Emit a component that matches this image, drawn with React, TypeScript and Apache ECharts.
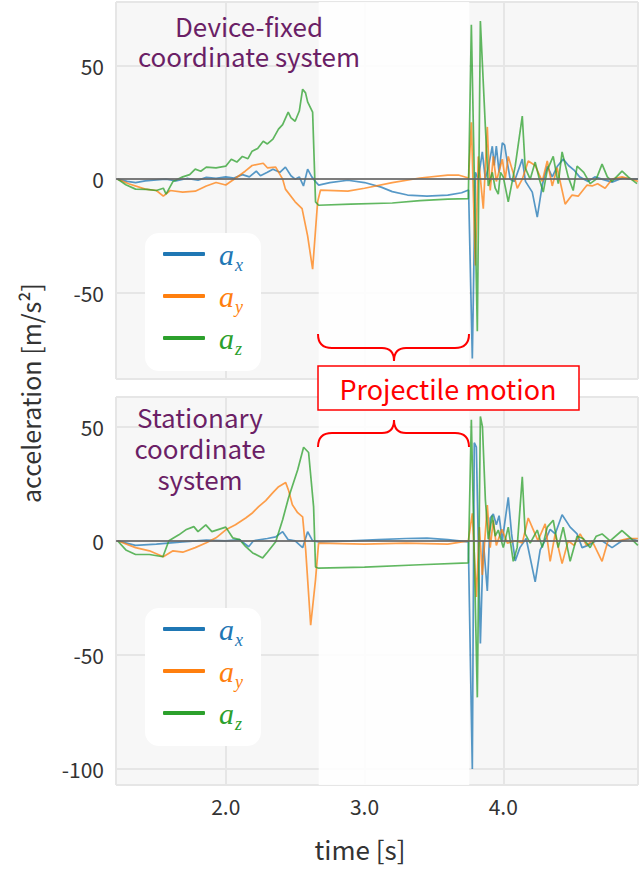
import * as echarts from 'echarts'
import { useEffect, useRef } from 'react'

// time axis range [s] and the projectile-motion band
const xRange = [1.209, 4.971]
const flightBand = [2.67, 3.755]

// device-fixed coordinate system [t, a]
const topAx = [
  [1.22, 0], [1.29, -1], [1.35, -1.5], [1.42, -0.8], [1.5, -0.3], [1.57, 0], [1.64, -0.8], [1.72, 0.3],
  [1.8, -0.5], [1.86, 0.8], [1.93, 0.3], [2.0, 1], [2.06, 0.5], [2.12, 2], [2.17, 1], [2.22, 3.5],
  [2.25, 1.5], [2.3, 3], [2.34, 4.4], [2.39, 3], [2.43, 5.3], [2.47, 1.5], [2.5, 0], [2.53, 1],
  [2.56, -3], [2.59, 4.4], [2.62, 1], [2.65, -1.3], [2.67, -2.6], [2.75, -1.5], [2.88, -0.5], [3.0, -1.5],
  [3.12, -3.5], [3.2, -5.5], [3.31, -7], [3.45, -7.5], [3.6, -7], [3.7, -6], [3.75, -4.8],
  [3.777, -79], [3.799, 3], [3.82, 0], [3.849, 12], [3.871, 0], [3.892, 5], [3.921, 14.5], [3.935, 6],
  [3.95, 14.5], [3.97, 3], [3.993, 16], [4.01, 15], [4.03, 7], [4.05, 0], [4.08, -1], [4.137, 8.8],
  [4.16, -1], [4.209, -5.7], [4.245, -16.7], [4.281, -2.6], [4.317, 5.7], [4.353, 1], [4.39, 5.7],
  [4.432, 8.8], [4.47, 6], [4.51, 4], [4.55, 1], [4.612, -1], [4.66, 1], [4.71, 0], [4.784, -1.3],
  [4.86, 0.5], [4.93, 0], [4.97, 0],
]
const topAy = [
  [1.22, 0], [1.3, -2], [1.42, -4.4], [1.5, -5], [1.55, -7.5], [1.6, -5], [1.69, -5.7], [1.78, -5.3],
  [1.86, -3], [1.93, -1.5], [2.0, -2.6], [2.07, 0.4], [2.14, 3.5], [2.19, 6], [2.27, 7], [2.3, 5],
  [2.36, 5.3], [2.41, 0], [2.43, -4.4], [2.5, -10], [2.55, -13], [2.59, -25], [2.626, -39.6],
  [2.662, -10], [2.683, -4.8], [2.88, -5.3], [3.0, -4], [3.2, -1.5], [3.4, 0.5], [3.6, 1.8], [3.676, 1.8],
  [3.75, 0.5], [3.77, 25], [3.799, -38], [3.82, 10], [3.856, -13], [3.885, 23], [3.892, 12], [3.906, -5],
  [3.928, 10], [3.95, -1], [3.993, 8.8], [4.014, 0], [4.036, 10], [4.08, 1], [4.101, -4], [4.137, 0],
  [4.18, 8], [4.23, 6], [4.281, -1], [4.317, 8], [4.353, -3], [4.388, 5], [4.446, -11], [4.496, -7],
  [4.54, -7.5], [4.604, -2.6], [4.64, -3], [4.68, -2], [4.734, -4], [4.784, 0], [4.856, 1], [4.95, -0.5],
  [4.97, -1],
]
const topAz = [
  [1.22, 0], [1.28, -2.5], [1.35, -4.4], [1.43, -4.5], [1.5, -5], [1.55, -4], [1.57, -6.6], [1.62, -1],
  [1.69, 1], [1.74, 2], [1.78, 4.4], [1.82, 3.5], [1.86, 5.3], [1.93, 5], [2.0, 5.7], [2.04, 8.8],
  [2.08, 7.5], [2.12, 10], [2.16, 9], [2.19, 12.3], [2.23, 13.5], [2.27, 16.7], [2.3, 15.5], [2.34, 17.6],
  [2.38, 22], [2.41, 24], [2.45, 29.5], [2.47, 27], [2.5, 25.5], [2.53, 30], [2.554, 39.6], [2.575, 38],
  [2.59, 34], [2.626, 29.5], [2.647, -10], [2.669, -11.5], [2.9, -11], [3.2, -10.5], [3.4, -9.5],
  [3.6, -8.8], [3.748, -8.6], [3.77, 68], [3.813, -67], [3.835, 69.6], [3.871, 23], [3.892, -3],
  [3.921, 3], [3.942, -4], [3.964, -6.6], [3.98, 3], [4.0, 1], [4.036, -10], [4.086, 5.7], [4.137, 27.8],
  [4.158, 5], [4.194, 0], [4.23, 7.5], [4.26, 0], [4.288, -5.7], [4.317, 4], [4.36, 10], [4.396, -2],
  [4.424, 12], [4.468, 1], [4.504, -5], [4.532, 5.7], [4.58, 3], [4.626, -2], [4.67, 0], [4.712, 6.6],
  [4.75, 1], [4.784, -1], [4.856, 3.5], [4.9, 1], [4.964, -2],
]

// stationary coordinate system [t, a]
const botAx = [
  [1.22, 0], [1.35, -2], [1.5, -1.5], [1.69, -0.5], [1.86, 0.3], [2.0, 0], [2.1, 0.5], [2.165, -2.6],
  [2.2, 0], [2.3, 1], [2.36, 1.7], [2.41, 4], [2.45, 0.5], [2.5, 0], [2.554, -3], [2.59, 4], [2.626, 0],
  [2.67, -0.5], [2.9, 0], [3.1, 0.5], [3.3, 1], [3.45, 1.2], [3.6, 0.5], [3.748, -0.5],
  [3.777, -100], [3.791, 43], [3.806, 41], [3.835, -45], [3.856, 0], [3.885, -22], [3.906, 10],
  [3.928, 11.7], [3.95, 7], [3.97, 11], [3.993, 0], [4.036, 19], [4.06, 3], [4.086, -8.8], [4.12, -3],
  [4.165, 1], [4.23, -18], [4.266, -4], [4.3, 0], [4.338, 5], [4.374, 3], [4.424, 11.4], [4.482, 6],
  [4.532, 3], [4.568, -3], [4.61, -2], [4.67, 0], [4.712, 0], [4.784, -3], [4.856, 0], [4.92, 1], [4.97, 0],
]
const botAy = [
  [1.22, 0], [1.35, -3], [1.45, -4.4], [1.55, -7], [1.62, -4.4], [1.69, -5], [1.78, -3], [1.86, -0.9],
  [1.93, 1.3], [2.0, 4.8], [2.07, 7], [2.144, 10], [2.194, 12.3], [2.237, 15], [2.288, 17.6], [2.338, 21],
  [2.381, 23.7], [2.432, 25.5], [2.453, 22], [2.48, 15.8], [2.518, 12.3], [2.554, 10.5], [2.576, -4],
  [2.612, -37], [2.647, -17], [2.669, -1], [3.0, -1.5], [3.3, -1], [3.6, -1.5], [3.748, 0],
  [3.777, 12], [3.806, -24.6], [3.828, 6], [3.849, -15], [3.885, 15.7], [3.906, -3], [3.928, 9],
  [3.95, -2], [3.99, 5], [4.03, -1], [4.09, 0], [4.137, -1], [4.18, 10], [4.215, 5], [4.25, 0],
  [4.302, 7.4], [4.338, -9], [4.374, 3], [4.424, -10], [4.468, 0], [4.51, -2], [4.554, 3], [4.6, -2],
  [4.64, 0], [4.712, -9], [4.755, 0], [4.83, 0], [4.9, 1], [4.97, 1],
]
const botAz = [
  [1.22, 0], [1.28, -4], [1.35, -6], [1.45, -6], [1.547, -7], [1.59, 0], [1.662, 2.6], [1.712, 4.8],
  [1.77, 6.2], [1.8, 4], [1.856, 7], [1.9, 4], [1.95, 5], [2.0, 6], [2.05, 1.3], [2.1, 0.5], [2.144, -2.6],
  [2.194, -5.3], [2.266, -7.5], [2.3, -5], [2.36, -0.4], [2.41, 9.2], [2.453, 19], [2.518, 31],
  [2.561, 41], [2.597, 38.7], [2.633, 15], [2.647, -11.5], [2.669, -12], [3.0, -11.5], [3.4, -10.5],
  [3.748, -9.7], [3.77, 53], [3.813, -68.6], [3.835, 54.5], [3.85, 50], [3.871, 18], [3.892, 0.7],
  [3.921, 11], [3.942, 2], [3.964, 4.7], [4.0, -3], [4.036, 6], [4.072, -9], [4.1, -3], [4.137, 28],
  [4.158, 3], [4.194, -1], [4.245, 4.7], [4.281, -3], [4.317, 6], [4.36, 9], [4.396, -3], [4.432, 6],
  [4.482, -9], [4.532, 2], [4.576, 1], [4.626, -3], [4.67, 2], [4.712, 3], [4.77, 0], [4.856, 4.5],
  [4.92, 1], [4.97, -2],
]

const names = ['ax', 'ay', 'az']
const subs = ['x', 'y', 'z']
const colors = ['#1f77b4', '#ff7f0e', '#2ca02c']

const font = '"Noto Sans CJK JP", "Noto Sans", sans-serif'
const mathFont = '"Liberation Serif", "DejaVu Serif", serif'
const purple = '#6b1f66'

// curly brace, tip pointing down
echarts.graphic.registerShape(
  'brace',
  echarts.graphic.extendPath(
    'M0,0 Q0,14 14,14 L64,14 Q76,14 76,27 Q76,14 88,14 L137,14 Q151,14 151,0',
    {}
  )
)

const legendRich: Record<string, any> = {}
colors.forEach((c, i) => {
  legendRich['a' + i] = {
    fontFamily: mathFont, fontStyle: 'italic', fontSize: 30, color: c,
    lineHeight: 30, verticalAlign: 'top', padding: [0, 1, 0, 9],
  }
  legendRich['s' + i] = {
    fontFamily: mathFont, fontStyle: 'italic', fontSize: 18, color: c,
    lineHeight: 16, verticalAlign: 'top', padding: [17, 0, 0, 0],
  }
})

const makeLegend = (top: number) => ({
  orient: 'vertical',
  left: 145,
  top,
  data: names,
  icon: 'roundRect',
  itemWidth: 42,
  itemHeight: 4,
  itemGap: 7,
  padding: [6, 18, 13, 18],
  backgroundColor: '#fff',
  borderRadius: 14,
  selectedMode: false,
  itemStyle: { opacity: 1 },
  formatter: (n: string) => {
    const i = names.indexOf(n)
    return `{a${i}|a}{s${i}|${subs[i]}}`
  },
  textStyle: { rich: legendRich },
})

const makeSeries = (data: number[][][], idx: number) =>
  data.map((d, i) => ({
    name: names[i],
    type: 'line',
    xAxisIndex: idx,
    yAxisIndex: idx,
    data: d,
    showSymbol: false,
    symbol: 'none',
    color: colors[i],
    lineStyle: { width: 1.7, opacity: 0.75 },
    z: 3,
    ...(i === 0
      ? {
          markArea: {
            silent: true,
            itemStyle: { color: 'rgba(255,255,255,0.85)' },
            data: [[{ xAxis: flightBand[0] }, { xAxis: flightBand[1] }]],
          },
          markLine: {
            silent: true,
            symbol: 'none',
            label: { show: false },
            lineStyle: { color: '#666', width: 2, type: 'solid', opacity: 0.85 },
            data: [{ yAxis: 0 }],
          },
        }
      : {}),
  }))

const gridBase = {
  left: 116,
  width: 522,
  show: true,
  backgroundColor: '#f7f7f7',
  borderColor: '#888',
  borderWidth: 1,
}
const splitLine = { lineStyle: { color: '#e6e6e6', width: 2 } }
const tickFont = { fontFamily: font, fontSize: 21, color: '#333' }
const centered = { align: 'center', verticalAlign: 'middle', textAlign: 'center', textVerticalAlign: 'middle' }

const App = () => {
  const chartRef = useRef<HTMLDivElement | null>(null)
  useEffect(() => {
    if (!chartRef.current) return
    const myChart = echarts.init(chartRef.current, null, { renderer: 'svg' })
    const option: any = {
      animation: false,
      grid: [
        { ...gridBase, top: 2, height: 377 },
        { ...gridBase, top: 397, height: 388 },
      ],
      xAxis: [0, 1].map((g) => ({
        gridIndex: g,
        type: 'value',
        min: xRange[0],
        max: xRange[1],
        splitNumber: 4,
        axisLine: { show: false },
        axisTick: { show: false },
        splitLine,
        axisLabel: {
          show: g === 1,
          ...tickFont,
          margin: 10,
          showMinLabel: false,
          showMaxLabel: false,
          formatter: (v: number) => v.toFixed(1),
        },
      })),
      yAxis: [
        { gridIndex: 0, min: -88, max: 78 },
        { gridIndex: 1, min: -107, max: 63 },
      ].map((a) => ({
        ...a,
        type: 'value',
        splitNumber: 3,
        axisLine: { show: false },
        axisTick: { show: false },
        splitLine,
        axisLabel: { ...tickFont, margin: 12, showMinLabel: false, showMaxLabel: false },
      })),
      legend: [makeLegend(233), makeLegend(608)],
      series: [...makeSeries([topAx, topAy, topAz], 0), ...makeSeries([botAx, botAy, botAz], 1)],
      graphic: [
        {
          type: 'text', x: 249, y: 10, z: 10,
          style: {
            text: 'Device-fixed\ncoordinate system', fontFamily: font, fontSize: 26, lineHeight: 30,
            fill: purple, align: 'center', textAlign: 'center',
          },
        },
        {
          type: 'text', x: 200, y: 401, z: 10,
          style: {
            text: 'Stationary\ncoordinate\nsystem', fontFamily: font, fontSize: 26, lineHeight: 31,
            fill: purple, align: 'center', textAlign: 'center',
          },
        },
        { type: 'brace', x: 318, y: 334, z: 10, style: { fill: 'none', stroke: '#f00', lineWidth: 2 } },
        { type: 'brace', x: 318, y: 447, scaleY: -1, z: 10, style: { fill: 'none', stroke: '#f00', lineWidth: 2 } },
        {
          type: 'rect', z: 10, shape: { x: 318, y: 366, width: 261, height: 44 },
          style: { fill: '#fff', stroke: '#f00', lineWidth: 1.5 },
        },
        {
          type: 'text', x: 448, y: 388, z: 11,
          style: { text: 'Projectile motion', fontFamily: font, fontSize: 27, fill: '#f00', ...centered },
        },
        {
          type: 'text', x: 30, y: 393, rotation: Math.PI / 2, z: 10,
          style: { text: 'acceleration [m/s²]', fontFamily: font, fontSize: 25, fill: '#333', ...centered },
        },
        {
          type: 'text', x: 360, y: 848, z: 10,
          style: { text: 'time [s]', fontFamily: font, fontSize: 26, fill: '#333', ...centered },
        },
      ],
    }
    myChart.setOption(option)
    return () => {
      myChart.dispose()
    }
  }, [])
  return (
    <div
      ref={chartRef}
      style={{ position: 'absolute', left: 0, top: 0, width: '640px', height: '875px' }}
    ></div>
  )
}
export default App
